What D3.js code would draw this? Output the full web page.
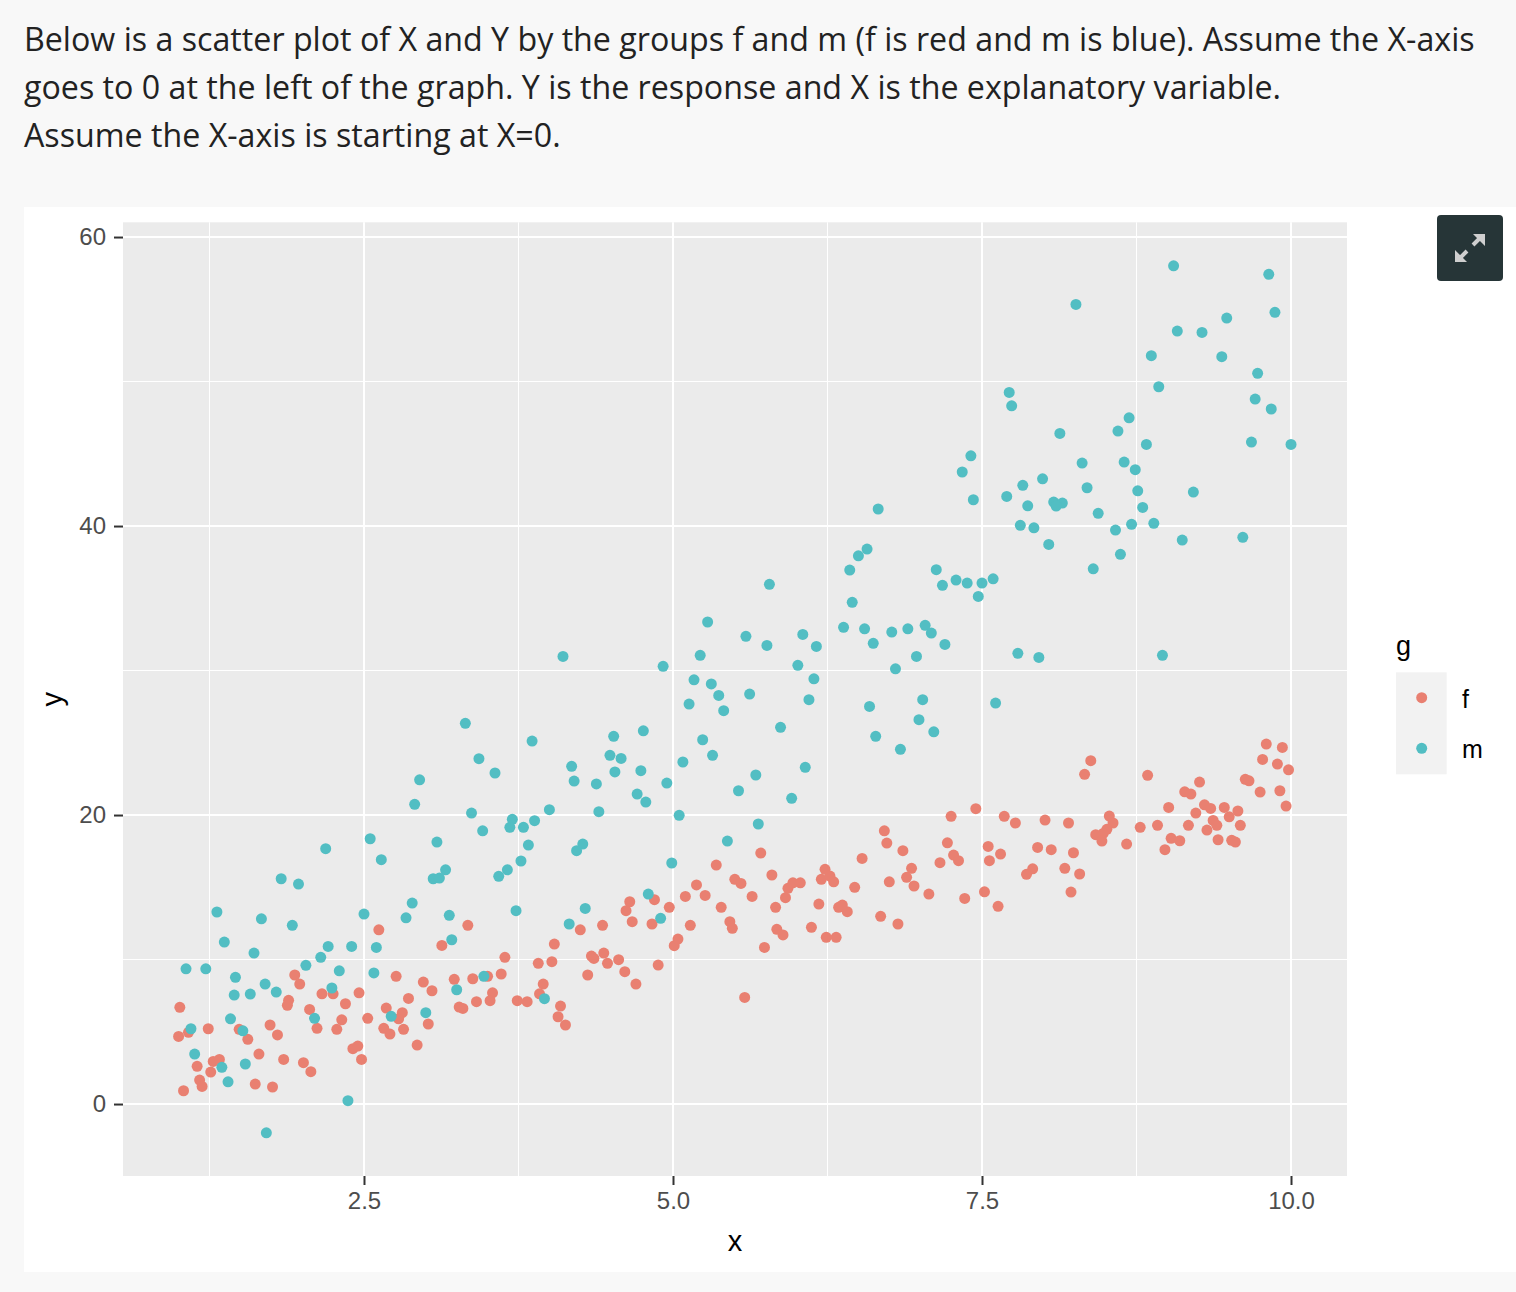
<!DOCTYPE html>
<html><head><meta charset="utf-8">
<script src="https://cdn.jsdelivr.net/npm/d3@7"></script>
<style>html,body{margin:0;padding:0;background:#f8f8f8;}svg{display:block;}</style>
</head><body>
<script>
const headerLines = [
  "Below is a scatter plot of X and Y by the groups f and m (f is red and m is blue). Assume the X-axis",
  "goes to 0 at the left of the graph. Y is the response and X is the explanatory variable.",
  "Assume the X-axis is starting at X=0."
];
const groups = ["f", "m"];
const xTicks = [2.5, 5, 7.5, 10];
const xTickLabels = ["2.5", "5.0", "7.5", "10.0"];
const yTicks = [0, 20, 40, 60];
const yTickLabels = ["0", "20", "40", "60"];
const xMinor = [1.25, 3.75, 6.25, 8.75];
const yMinor = [10, 30, 50];

const fX = [2.62,3.34,3.13,3.64,1.94,1.98,2.76,3.23,3.38,3.50,3.61,2.98,3.05,3.54,3.52,3.41,3.74,3.82,1.01,1.89,1.88,2.16,2.25,2.46,2.35,2.06,2.86,3.27,3.30,2.68,2.81,2.78,2.32,2.53,1.74,1.80,1.49,1.56,1.24,1.08,1.00,2.12,2.28,2.66,2.71,2.82,3.02,2.93,2.41,2.45,2.48,1.65,1.85,2.01,2.07,1.28,1.33,1.15,1.26,1.17,1.19,1.04,1.62,1.76,
6.71,6.73,6.86,5.71,5.35,6.53,6.23,6.20,6.27,6.30,6.93,6.89,6.95,6.75,7.16,7.07,6.47,5.80,5.50,5.55,5.19,5.10,5.26,5.64,5.93,5.97,6.03,5.91,5.39,5.83,6.18,6.34,6.37,6.41,6.68,6.82,6.12,6.24,6.32,5.84,5.89,5.74,5.46,5.48,5.14,4.97,4.85,4.83,4.65,4.62,4.67,4.43,4.25,4.04,3.91,4.02,4.34,4.36,4.44,4.47,4.56,4.31,4.61,4.70,4.88,5.01,5.04,5.58,3.95,3.92,4.09,4.07,4.13,
9.80,9.93,9.77,9.89,9.98,8.38,8.33,8.84,9.63,9.66,9.26,9.14,9.19,9.75,9.91,9.96,9.01,7.45,7.25,7.68,7.77,8.01,8.20,8.53,8.56,8.51,8.48,8.42,8.47,8.67,8.78,8.92,9.17,9.23,9.30,9.35,9.46,9.57,9.50,9.37,9.40,9.32,9.59,9.41,9.52,9.55,9.03,9.10,8.98,7.22,7.27,7.31,7.55,7.56,7.65,7.95,8.06,8.24,8.17,8.29,8.22,7.86,7.91,7.52,7.36,7.63];
const fY = [12.06,12.37,10.98,10.15,8.93,8.30,8.84,8.63,8.67,8.84,9.00,8.44,7.84,7.70,7.15,7.08,7.15,7.08,6.69,7.18,6.83,7.63,7.63,7.70,6.94,6.55,7.31,6.71,6.62,6.64,6.32,5.90,5.83,5.93,5.47,4.78,5.17,4.48,5.21,4.96,4.68,5.24,5.17,5.24,4.84,5.17,5.54,4.08,3.83,4.01,3.09,3.46,3.09,2.86,2.24,2.95,3.09,2.61,2.21,1.66,1.22,0.92,1.38,1.18,
18.91,18.06,17.53,17.37,16.54,17.00,16.24,15.55,15.78,15.38,16.31,15.69,15.09,15.38,16.70,14.53,15.00,15.85,15.55,15.27,15.16,14.37,14.44,14.37,14.93,15.31,15.31,14.28,13.61,13.61,13.84,13.61,13.77,13.31,12.99,12.46,12.23,11.54,11.54,12.09,11.70,10.84,12.62,12.16,12.37,13.61,14.14,12.46,14.00,13.38,12.62,12.37,12.06,11.07,9.74,9.85,10.24,10.08,10.45,9.74,9.99,8.93,9.16,8.30,9.62,10.96,11.42,7.38,8.30,7.63,6.78,6.04,5.47,
24.91,24.68,23.85,23.53,23.13,23.76,22.82,22.75,22.47,22.37,22.28,21.61,21.45,21.59,21.68,20.62,20.53,20.44,19.91,19.91,19.45,19.65,19.45,19.93,19.45,19.01,18.73,18.64,18.20,17.99,19.15,19.29,19.29,20.14,20.71,20.46,20.53,20.28,19.88,19.63,19.29,18.96,19.29,18.29,18.25,18.13,18.39,18.22,17.60,18.08,17.23,16.84,17.83,16.84,17.30,17.76,17.60,17.39,16.31,15.92,14.67,15.90,16.28,14.69,14.23,13.68];

const mX = [3.32,3.86,3.43,3.56,2.95,2.91,3.37,3.70,3.68,3.79,3.88,3.46,2.55,3.09,2.19,3.83,2.64,3.77,3.16,3.66,3.06,3.11,3.59,1.83,1.97,2.89,2.84,2.50,3.19,3.73,1.31,1.67,1.92,3.21,1.37,1.61,2.21,2.40,2.60,1.06,1.22,2.03,2.15,2.30,2.58,1.46,1.70,1.79,1.45,1.58,2.24,3.47,3.25,2.10,1.42,3.00,2.72,1.10,1.52,1.13,1.35,1.54,1.40,2.37,1.71,
6.66,6.57,6.50,6.43,7.13,7.18,6.45,5.78,5.28,5.59,5.76,6.05,6.16,6.38,6.55,6.62,6.77,6.90,7.04,7.09,7.20,6.97,6.80,5.22,4.11,4.92,5.17,5.31,5.37,5.13,5.41,5.62,6.01,6.14,6.10,5.87,6.59,7.02,6.99,7.11,6.64,6.84,6.07,5.96,5.67,5.53,5.24,5.32,5.08,4.95,5.05,5.69,4.76,4.52,4.49,4.58,4.53,4.74,4.18,4.20,4.38,4.71,4.78,4.40,4.00,5.44,4.27,4.22,4.99,4.80,4.29,4.16,4.90,3.96,
9.05,9.82,8.26,9.87,9.48,9.08,9.28,8.87,9.44,9.73,8.93,9.71,9.84,7.72,7.74,8.13,8.69,8.60,9.68,10.00,8.83,7.41,7.34,7.43,7.70,7.83,7.99,7.87,8.08,8.15,8.10,8.31,8.35,8.65,8.74,8.76,8.80,8.44,7.81,7.92,8.58,8.71,8.89,9.21,9.12,9.61,8.04,8.40,8.62,7.29,7.38,7.50,7.59,7.47,7.79,7.96,8.96,7.61];
const mY = [26.35,25.12,23.90,22.91,22.44,20.74,20.14,19.70,19.15,19.15,19.61,18.91,18.36,18.13,17.67,17.92,16.91,16.82,16.21,16.21,15.59,15.64,15.76,15.59,15.22,13.91,12.89,13.15,13.06,13.38,13.29,12.82,12.37,11.37,11.21,10.45,10.91,10.91,10.84,9.36,9.36,9.60,10.15,9.22,9.07,8.77,8.30,7.75,7.54,7.61,8.03,8.84,7.91,5.93,5.90,6.32,6.07,5.21,5.07,3.46,2.54,2.77,1.54,0.23,-1.99,
41.18,38.41,37.94,36.95,36.98,35.90,34.72,35.97,33.36,32.37,31.74,32.50,31.67,32.99,32.89,31.88,32.66,32.89,33.13,32.59,31.81,30.98,30.12,31.05,30.98,30.29,29.36,29.07,28.28,27.68,27.22,28.37,30.36,29.43,27.98,26.07,27.52,27.98,26.60,25.76,25.45,24.55,23.30,21.16,22.77,21.68,25.21,24.13,23.67,22.21,19.98,19.38,25.83,25.45,24.13,23.92,22.98,23.07,23.37,22.35,22.15,21.45,20.90,20.23,20.37,18.20,17.99,17.53,16.68,14.53,13.54,12.46,12.85,7.29,
58.01,57.42,55.34,54.79,54.39,53.49,53.40,51.79,51.72,50.57,49.64,48.79,48.10,49.25,48.32,46.41,47.49,46.57,45.81,45.65,45.65,44.86,43.74,41.82,42.05,42.82,43.27,41.40,41.66,41.59,41.38,44.36,42.65,44.43,43.90,42.44,41.29,40.88,40.05,39.88,39.72,40.12,40.19,42.35,39.03,39.22,38.73,37.04,38.04,36.26,36.05,36.05,36.35,35.13,31.19,30.91,31.05,27.75];

const W = 1516, H = 1292;
const panel = {x0: 123, x1: 1347, y0: 222.3, y1: 1176};
const colors = {f: "#E98071", m: "#52BEC3"};

const svg = d3.select("body").append("svg").attr("width", W).attr("height", H);
svg.append("rect").attr("width", W).attr("height", H).attr("fill", "#f8f8f8");
svg.append("rect").attr("x", 24).attr("y", 207).attr("width", W - 24).attr("height", 1065).attr("fill", "#ffffff");

svg.append("g").selectAll("text").data(headerLines).join("text")
  .attr("x", 24).attr("y", (d, i) => 51 + i * 48)
  .attr("font-family", "'Open Sans', 'Noto Sans', sans-serif").attr("font-size", 32.2)
  .attr("fill", "#222").text(d => d);

// expand button
const btn = svg.append("g");
btn.append("rect").attr("x", 1437).attr("y", 215).attr("width", 66).attr("height", 66).attr("rx", 4).attr("fill", "#263537");
btn.append("path").attr("d", "M1460,258 L1467,251 M1473,245 L1480,238").attr("stroke", "#cfcfcf").attr("stroke-width", 4);
btn.append("path").attr("d", "M1485,234 L1473,234 L1485,246 Z M1455,262 L1467,262 L1455,250 Z").attr("fill", "#cfcfcf");

const x = d3.scaleLinear().domain([0.5502, 10.453]).range([panel.x0, panel.x1]);
const y = d3.scaleLinear().domain([-4.98, 61.02]).range([panel.y1, panel.y0]);

svg.append("rect").attr("x", panel.x0).attr("y", panel.y0)
  .attr("width", panel.x1 - panel.x0).attr("height", panel.y1 - panel.y0).attr("fill", "#ebebeb");

const grid = svg.append("g").attr("stroke", "#ffffff");
grid.selectAll(".xm").data(xMinor).join("line").attr("x1", d => x(d)).attr("x2", d => x(d))
  .attr("y1", panel.y0).attr("y2", panel.y1).attr("stroke-width", 1);
grid.selectAll(".ym").data(yMinor).join("line").attr("y1", d => y(d)).attr("y2", d => y(d))
  .attr("x1", panel.x0).attr("x2", panel.x1).attr("stroke-width", 1);
grid.selectAll(".xM").data(xTicks).join("line").attr("x1", d => x(d)).attr("x2", d => x(d))
  .attr("y1", panel.y0).attr("y2", panel.y1).attr("stroke-width", 2);
grid.selectAll(".yM").data(yTicks).join("line").attr("y1", d => y(d)).attr("y2", d => y(d))
  .attr("x1", panel.x0).attr("x2", panel.x1).attr("stroke-width", 2);

// axes
const xAxis = d3.axisBottom(x).tickValues(xTicks).tickFormat((d, i) => xTickLabels[i]).tickSize(9).tickPadding(7);
const yAxis = d3.axisLeft(y).tickValues(yTicks).tickFormat((d, i) => yTickLabels[i]).tickSize(9).tickPadding(8);
const gx = svg.append("g").attr("transform", `translate(0,${panel.y1})`).call(xAxis);
const gy = svg.append("g").attr("transform", `translate(${panel.x0},0)`).call(yAxis);
[gx, gy].forEach(g => {
  g.select(".domain").remove();
  g.selectAll(".tick line").attr("stroke", "#333").attr("stroke-width", 2);
  g.selectAll(".tick text").attr("fill", "#4d4d4d").attr("font-family", "'Liberation Sans', Arial, sans-serif").attr("font-size", 24);
});

// points
const pts = [];
fX.forEach((v, i) => pts.push({g: "f", x: v, y: fY[i]}));
mX.forEach((v, i) => pts.push({g: "m", x: v, y: mY[i]}));
svg.append("g").selectAll("circle").data(pts).join("circle")
  .attr("cx", d => x(d.x)).attr("cy", d => y(d.y)).attr("r", 5.5).attr("fill", d => colors[d.g]);

// axis titles
svg.append("text").attr("x", (panel.x0 + panel.x1) / 2).attr("y", 1251).attr("text-anchor", "middle")
  .attr("font-family", "'Liberation Sans', Arial, sans-serif").attr("font-size", 29).attr("fill", "#000").text("x");
svg.append("text").attr("transform", `translate(62,${(panel.y0 + panel.y1) / 2}) rotate(-90)`).attr("text-anchor", "middle")
  .attr("font-family", "'Liberation Sans', Arial, sans-serif").attr("font-size", 29).attr("fill", "#000").text("y");

// legend
const lg = svg.append("g");
lg.append("text").attr("x", 1396).attr("y", 655).attr("font-family", "'Liberation Sans', Arial, sans-serif")
  .attr("font-size", 27).attr("fill", "#000").text("g");
lg.append("rect").attr("x", 1396).attr("y", 672.3).attr("width", 50.7).attr("height", 102).attr("fill", "#f2f2f2");
lg.selectAll("circle").data(groups).join("circle").attr("cx", 1421.7).attr("cy", (d, i) => 697.7 + i * 50.6)
  .attr("r", 5.5).attr("fill", d => colors[d]);
lg.selectAll(".lab").data(groups).join("text").attr("x", 1462).attr("y", (d, i) => 708 + i * 50.3)
  .attr("font-family", "'Liberation Sans', Arial, sans-serif").attr("font-size", 25).attr("fill", "#000").text(d => d);
</script>
</body></html>
